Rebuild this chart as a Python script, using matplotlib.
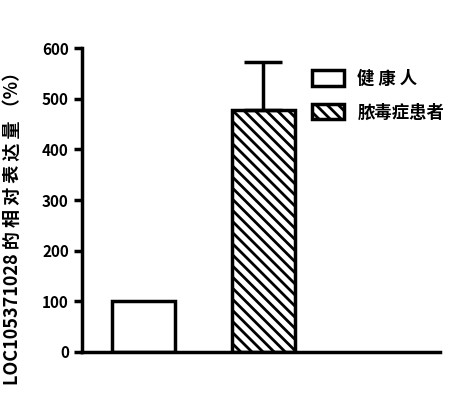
import matplotlib
matplotlib.use("Agg")
import matplotlib.pyplot as plt

plt.rcParams['font.family'] = ['Noto Sans CJK SC', 'DejaVu Sans']
plt.rcParams['hatch.linewidth'] = 2.0

categories = ["健 康 人", "脓毒症患者"]
values = [100, 478]
errors = [0, 94]
yticks = [0, 100, 200, 300, 400, 500, 600]

fig = plt.figure(figsize=(4.74, 4.18), dpi=100)
ax = fig.add_axes([0.173, 0.158, 0.755, 0.727])
pos = [0, 1]
ax.bar(pos[0], values[0], width=0.525, color='white', edgecolor='black', linewidth=2.5, label=categories[0])
ax.bar(pos[1], values[1], width=0.525, color='white', edgecolor='black', linewidth=2.5, hatch='\\\\\\', label=categories[1])
ax.errorbar(pos[1], values[1], yerr=[[0], [errors[1]]], fmt='none', ecolor='black', elinewidth=2.5, capsize=14, capthick=2.5)
ax.set_xlim(-0.5125, 2.47)
ax.set_ylim(0, 600)
ax.set_yticks(yticks)
ax.set_yticklabels([str(t) for t in yticks], fontweight='bold', fontsize=11)
ax.set_xticks([])
for s in ['top', 'right']:
    ax.spines[s].set_visible(False)
for s in ['left', 'bottom']:
    ax.spines[s].set_linewidth(2.5)
ax.tick_params(axis='y', width=2.5, length=6)
ax.set_ylabel("LOC105371028 的 相 对 表 达 量 （%）", fontweight='bold', fontsize=13, labelpad=2)
ax.yaxis.set_label_coords(-0.17, 0.42)
ax.legend(loc='upper left', bbox_to_anchor=(0.6, 0.98), frameon=False,
          prop={'weight': 'bold', 'size': 12.5}, handlelength=1.8, handleheight=1.0,
          labelspacing=0.9, handletextpad=0.8)
fig.savefig("out.png", dpi=100)
